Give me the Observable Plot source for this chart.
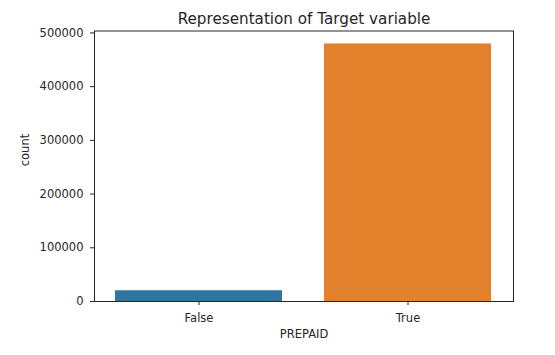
<!DOCTYPE html>
<html>
<head>
<meta charset="utf-8">
<script src="https://cdn.jsdelivr.net/npm/d3@7"></script>
<script src="https://cdn.jsdelivr.net/npm/@observablehq/plot@0.6"></script>
<style>
  html, body { margin: 0; padding: 0; background: #fff; }
  svg { display: block; }
</style>
</head>
<body>
<div id="chart"></div>
<script>
const categories = ["False", "True"];
const counts = [20000, 479500];
const colors = ["#3274a1", "#e1812c"];
const yTicks = [0, 100000, 200000, 300000, 400000, 500000];
const title = "Representation of Target variable";
const xLabel = "PREPAID";
const yLabel = "count";

const data = categories.map((c, i) => ({category: c, count: counts[i]}));
const font = "DejaVu Sans, sans-serif";

const chart = Plot.plot({
  width: 555,
  height: 355,
  marginLeft: 94,
  marginRight: 42,
  marginTop: 30.5,
  marginBottom: 54,
  style: {fontFamily: font, fontSize: "11.5px", color: "#262626", background: "#fff"},
  x: {domain: categories, paddingInner: 0.2, paddingOuter: 0.1, align: 0.5},
  y: {domain: [0, 503600]},
  color: {domain: categories, range: colors},
  marks: [
    Plot.barY(data, {x: "category", y: "count", fill: "category"}),
    Plot.axisY({ticks: yTicks, tickFormat: d => String(d), tickSize: 4, tickPadding: 7, label: null, fontSize: 11.5, stroke: "#262626"}),
    Plot.axisX({tickSize: 4, tickPadding: 8, label: null, fontSize: 11.5}),
    Plot.frame({stroke: "#262626", strokeWidth: 1}),
    Plot.text([title], {frameAnchor: "top", lineAnchor: "middle", dy: -12, text: d => d, fontSize: 15.2, fill: "#262626"}),
    Plot.text([xLabel], {frameAnchor: "bottom", lineAnchor: "middle", dy: 33, text: d => d, fontSize: 11.5, fill: "#262626"}),
    Plot.text([yLabel], {frameAnchor: "left", lineAnchor: "middle", dx: -69, rotate: -90, text: d => d, fontSize: 11.5, fill: "#262626"})
  ]
});
document.getElementById("chart").appendChild(chart);
</script>
</body>
</html>
